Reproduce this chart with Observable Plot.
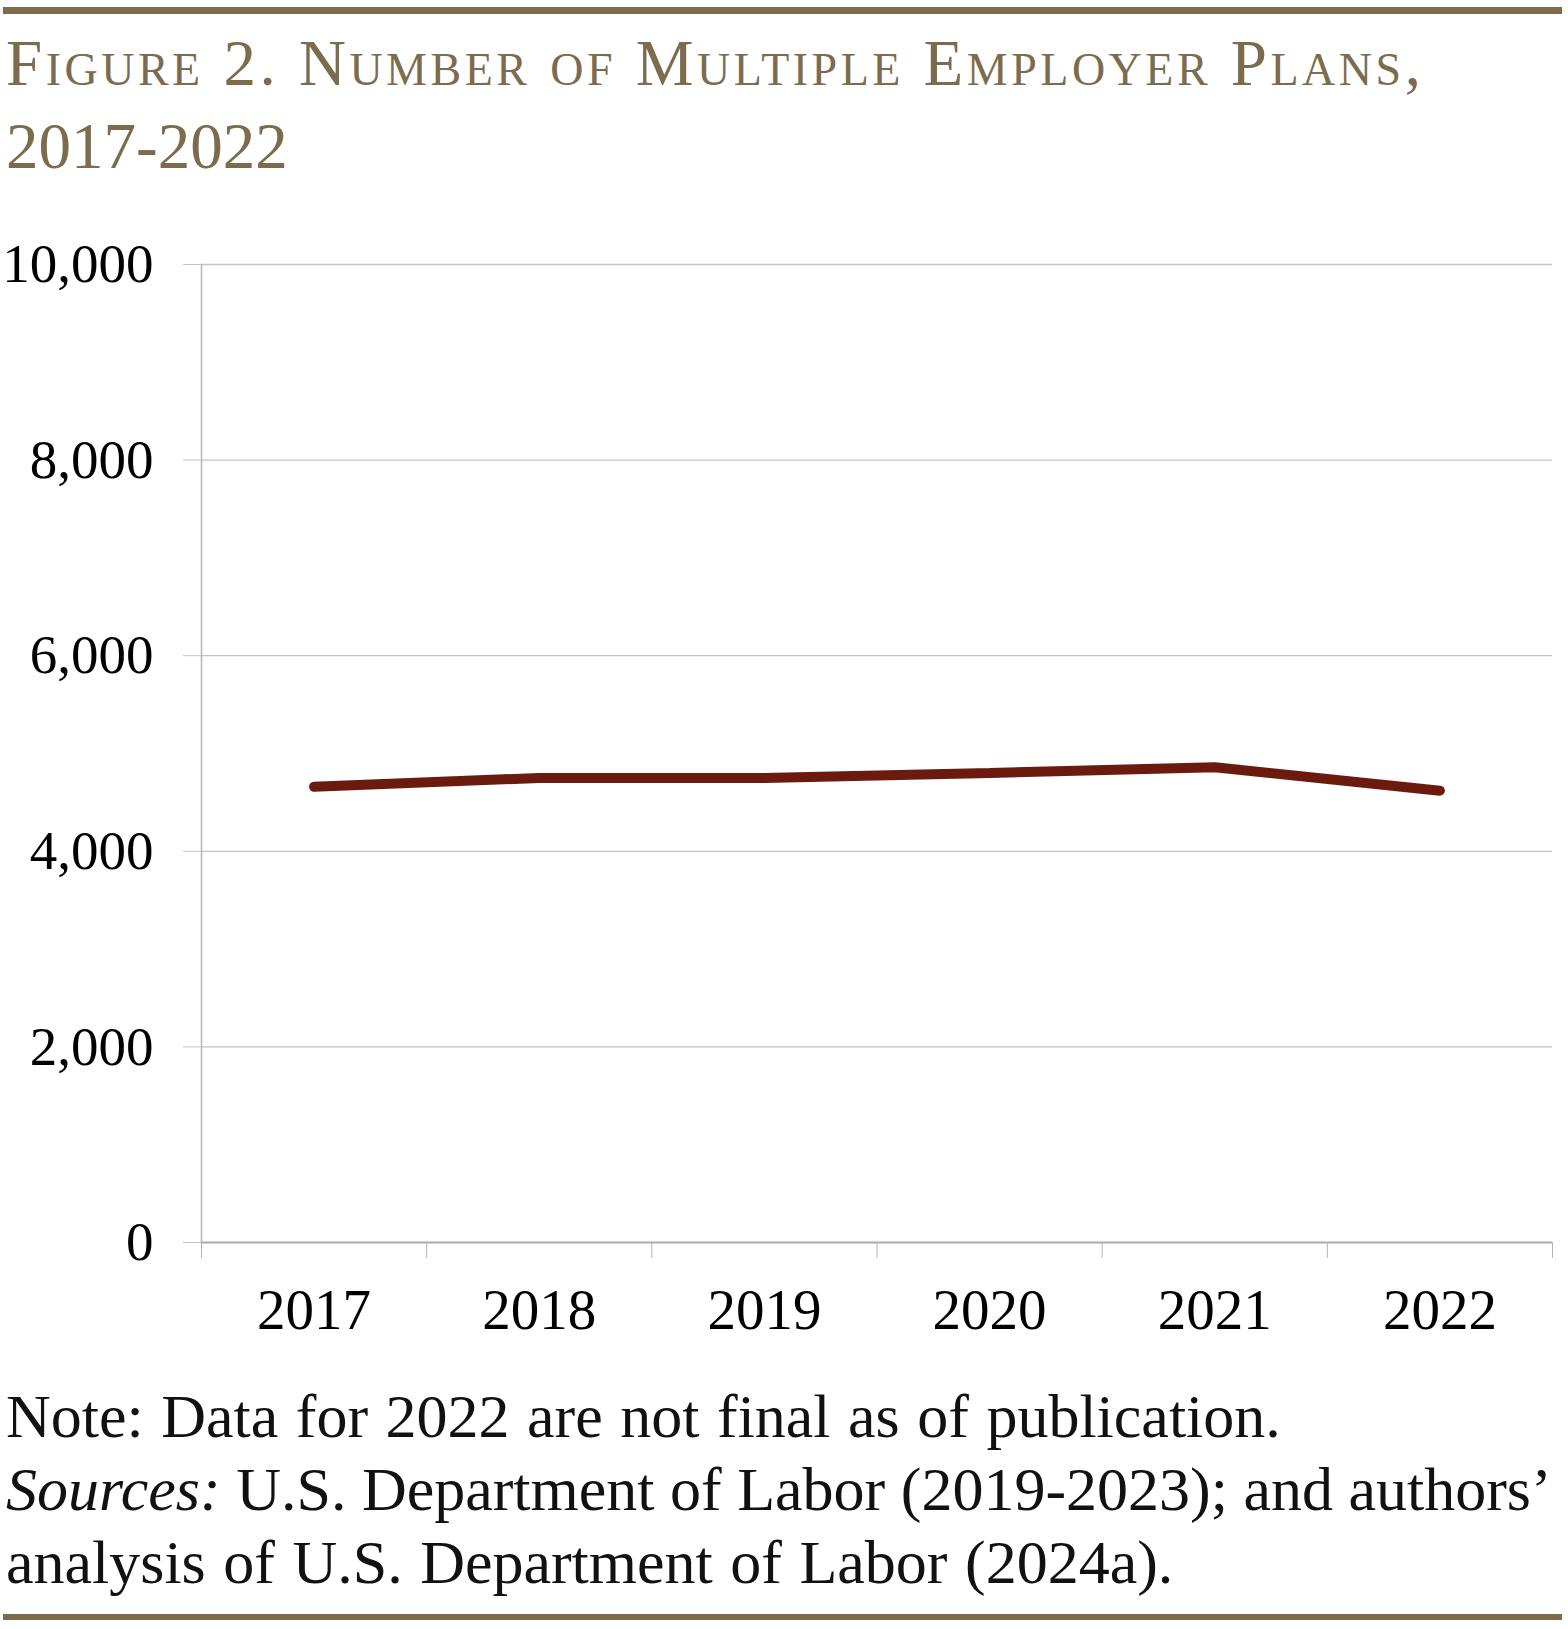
<!DOCTYPE html>
<html>
<head>
<meta charset="utf-8">
<script src="https://cdn.jsdelivr.net/npm/d3@7"></script>
<script src="https://cdn.jsdelivr.net/npm/@observablehq/plot@0.6"></script>
<style>
  html, body { margin: 0; padding: 0; background: #fff; }
  body { width: 1568px; height: 1629px; position: relative; overflow: hidden; }
  .bar { position: absolute; left: 3px; width: 1559px; background: #7d6b4e; }
  #title { position: absolute; left: 6px; top: 22px; font-family: "Liberation Serif", serif; font-size: 65px; line-height: 83px; color: #7d6b4e; font-variant: small-caps; white-space: nowrap; }
  #title .l1 { letter-spacing: 3.5px; }
  #chart { position: absolute; left: 0; top: 200px; }
  #notes { position: absolute; left: 6px; top: 1380px; font-family: "Liberation Serif", serif; font-size: 62px; line-height: 73px; color: #111; white-space: nowrap; }
  #notes .l1, #notes .l3 { word-spacing: 2px; }
</style>
</head>
<body>
<div class="bar" style="top:7px;height:7px"></div>
<div id="title"><span class="l1">Figure 2. Number of Multiple Employer Plans,</span><br>2017-2022</div>
<div id="chart"></div>
<div id="notes"><span class="l1">Note: Data for 2022 are not final as of publication.</span><br><i>Sources:</i> U.S. Department of Labor (2019-2023); and authors’<br><span class="l3">analysis of U.S. Department of Labor (2024a).</span></div>
<div class="bar" style="top:1614px;height:6px"></div>
<script>
const years = [2017, 2018, 2019, 2020, 2021, 2022];
const plans = [4660, 4750, 4750, 4800, 4860, 4620];
const yTicks = [0, 2000, 4000, 6000, 8000, 10000];

const data = years.map((year, i) => ({year, value: plans[i]}));
const bounds = [years[0] - 0.5, ...years.map(y => y + 0.5)];

const chart = Plot.plot({
  width: 1568,
  height: 1145,
  marginTop: 64,
  marginBottom: 103,
  marginLeft: 201,
  marginRight: 16,
  style: {fontFamily: "Liberation Serif, serif", fontSize: "57px", color: "#000", background: "#fff", overflow: "visible"},
  x: {type: "linear", domain: [years[0] - 0.5, years[years.length - 1] + 0.5]},
  y: {domain: [0, 10000]},
  marks: [
    Plot.ruleY(yTicks, {stroke: "#c4c4c4", strokeWidth: 1.3}),
    Plot.ruleX([bounds[0]], {stroke: "#b4b4b4", strokeWidth: 1.5}),
    Plot.ruleY([0], {stroke: "#b0b0b0", strokeWidth: 2}),
    Plot.axisY({ticks: yTicks, tickSize: 18, tickPadding: 30, stroke: "#c4c4c4", strokeOpacity: 1, fill: "#000", fontSize: 55, tickFormat: d3.format(","), label: null}),
    Plot.axisX({ticks: bounds, tickSize: 16, tickPadding: 0, stroke: "#b4b4b4", strokeOpacity: 1, tickFormat: () => "", label: null}),
    Plot.axisX({ticks: years, tickSize: 0, tickPadding: 46, fill: "#000", fontSize: 57, tickFormat: d => String(d), label: null}),
    Plot.line(data, {x: "year", y: "value", stroke: "#6b1a0e", strokeWidth: 10, strokeLinecap: "round", strokeLinejoin: "miter"})
  ]
});
document.getElementById("chart").appendChild(chart);
</script>
</body>
</html>
